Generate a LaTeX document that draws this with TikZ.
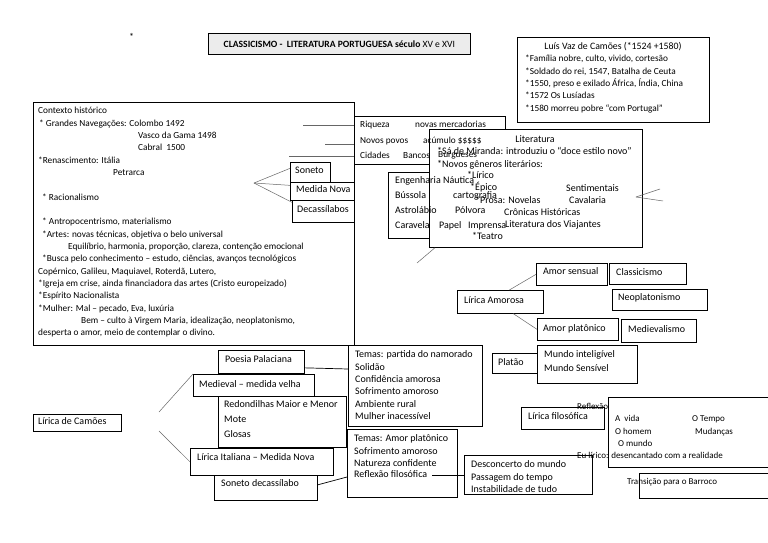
\documentclass[tikz,border=0pt]{standalone}
\usepackage{fontspec}
\setmainfont{Carlito}
\begin{document}
\begin{tikzpicture}[x=1pt,y=-1pt,
    every node/.style={font=\fontsize{10}{12.3}\selectfont},
    box/.style={draw, rectangle, fill=white, anchor=north west, inner sep=0pt, line width=0.7pt},
    txt/.style={anchor=west, inner sep=0pt, text height=6.5pt, text depth=2pt},
    para/.style={anchor=north west, inner sep=0pt, align=left},
    small/.style={font=\fontsize{9.3}{12.33}\selectfont},
    tiny/.style={font=\fontsize{9}{12.3}\selectfont},
    link/.style={draw=black!60, line width=0.5pt}]
    \useasboundingbox (0,0) rectangle (768,543);

    \node (star) [txt] at (129,38) {*};
    \node (title) [box, fill=gray!15, minimum width=262pt, minimum height=21pt, font=\bfseries\fontsize{9.6}{11}\selectfont] at (208,33) {CLASSICISMO -\ \ LITERATURA PORTUGUESA século {\mdseries XV e XVI}};

    \node (camoes) [box, minimum width=192pt, minimum height=85pt] at (517,37) {};
    \node (ctx) [box, minimum width=321pt, minimum height=243pt] at (33,102) {};
    \node (riq) [box, minimum width=151pt, minimum height=48pt] at (354,116) {};
    \node (eng) [box, minimum width=60pt, minimum height=66pt] at (388,172) {};
    \node (lit) [box, minimum width=213pt, minimum height=118pt] at (429,129) {};
    \node (son) [box, minimum width=40pt, minimum height=20pt] at (290,162) {};
    \node (mnova) [box, minimum width=64pt, minimum height=18pt] at (290,182) {};
    \node (decas) [box, minimum width=62pt, minimum height=22pt] at (292,200) {};

    \node (la) [box, minimum width=86pt, minimum height=23pt] at (457,290) {};
    \node (asens) [box, minimum width=71pt, minimum height=22pt] at (536,263) {};
    \node (class) [box, minimum width=77pt, minimum height=21pt] at (609,263) {};
    \node (neo) [box, minimum width=95pt, minimum height=21pt] at (612,289) {};
    \node (aplat) [box, minimum width=81pt, minimum height=22pt] at (537,318) {};
    \node (medv) [box, minimum width=75pt, minimum height=23pt] at (621,319) {};
    \node (platao) [box, minimum width=45pt, minimum height=20pt] at (492,353) {};
    \node (mundo) [box, minimum width=100pt, minimum height=38pt] at (537,345) {};

    \node (lc) [box, minimum width=88pt, minimum height=17pt] at (33,414) {};
    \node (pp) [box, minimum width=86pt, minimum height=23pt] at (218,350) {};
    \node (med) [box, minimum width=121pt, minimum height=22pt] at (193,374) {};
    \node (red) [box, minimum width=128pt, minimum height=51pt] at (218,396) {};
    \node (ita) [box, minimum width=143pt, minimum height=27pt] at (190,448) {};
    \node (sd) [box, minimum width=103pt, minimum height=25pt] at (214,475) {};
    \node (t1) [box, minimum width=134pt, minimum height=81pt] at (348,345) {};
    \node (t2) [box, minimum width=110pt, minimum height=68pt] at (347,429) {};
    \node (dc) [box, minimum width=128pt, minimum height=39pt] at (464,455) {};
    \node (lf) [box, minimum width=83pt, minimum height=22pt] at (521,407) {};
    \node (refl) [box, minimum width=170pt, minimum height=70pt] at (608,397) {};
    \node (trans) [box, minimum width=140pt, minimum height=25pt] at (639,473) {};

    \node (camoestitle) [font=\fontsize{9.8}{12.3}\selectfont] at (613,47) {Luís Vaz de Camões (*1524 +1580)};
    \node (camoestext) [para, small] at (525,53) {\strut*Família nobre, culto, vivido, cortesão\\
        *Soldado do rei, 1547, Batalha de Ceuta\\
        *1550, preso e exilado África, Índia, China\\
        *1572 Os Lusíadas\\
        *1580 morreu pobre “com Portugal”};

    \node (ctxtext) [para, small] at (38,105) {\strut Contexto histórico\\
        \hspace*{1pt}* Grandes Navegações: Colombo 1492\\
        \hspace*{100pt}Vasco da Gama 1498\\
        \hspace*{100pt}Cabral\ \ 1500\\
        *Renascimento: Itália\\
        \hspace*{75pt}Petrarca\\
        {}\\
        \hspace*{4pt}* Racionalismo\\
        {}\\
        \hspace*{4pt}* Antropocentrismo, materialismo\\
        \hspace*{4pt}*Artes: novas técnicas, objetiva o belo universal\\
        \hspace*{30pt}Equilíbrio, harmonia, proporção, clareza, contenção emocional\\
        \hspace*{4pt}*Busca pelo conhecimento – estudo, ciências, avanços tecnológicos\\
        Copérnico, Galileu, Maquiavel, Roterdã, Lutero,\\
        *Igreja em crise, ainda financiadora das artes (Cristo europeizado)\\
        *Espírito Nacionalista\\
        *Mulher: Mal – pecado, Eva, luxúria\\
        \hspace*{43pt}Bem – culto à Virgem Maria, idealização, neoplatonismo,\\
        desperta o amor, meio de contemplar o divino.};

    \node (littitle) at (535,139) {Literatura};
    \node (littext) [para] at (437,146) {\strut*Sá de Miranda: introduziu o “doce estilo novo”\\
        *Novos gêneros literários:};
    \node (lirico) [txt] at (467,176) {*Lírico};
    \node (epico) [txt] at (470,188) {*Épico};
    \node (sent) [txt] at (566,189) {Sentimentais};
    \node (prosa) [txt] at (475,201) {*Prosa: Novelas};
    \node (caval) [txt] at (569,201) {Cavalaria};
    \node (cron) [txt] at (504,213) {Crônicas Históricas};
    \node (viaj) [txt] at (505,225) {Literatura dos Viajantes};
    \node (teatro) [txt] at (472,237) {*Teatro};

    \node (riqueza) [txt, small] at (360,125) {Riqueza};
    \node (merc) [txt, small] at (415,125) {novas mercadorias};
    \node (povos) [txt, small] at (360,141) {Novos povos};
    \node (acum) [txt, small] at (423,141) {acúmulo \$\$\$\$\$};
    \node (cid) [txt, small] at (360,156) {Cidades};
    \node (bancos) [txt, small] at (403,156) {Bancos};
    \node (burg) [txt, small] at (438,155) {Burgueses};

    \node (nautica) [txt] at (395,181) {Engenharia Náutica};
    \node (bussola) [txt] at (395,196) {Bússola};
    \node (carto) [txt] at (453,196) {cartografia};
    \node (astro) [txt] at (395,211) {Astrolábio};
    \node (polvora) [txt] at (455,211) {Pólvora};
    \node (carav) [txt] at (395,226) {Caravela};
    \node (papel) [txt] at (439,226) {Papel};
    \node (impr) [txt] at (468,226) {Imprensa};

    \node (sontext) [txt] at (295,171) {Soneto};
    \node (mnovatext) [txt] at (296,190) {Medida Nova};
    \node (decastext) [txt] at (297,210) {Decassílabos};

    \node (latext) [txt] at (464,301) {Lírica Amorosa};
    \node (asenstext) [txt] at (543,272) {Amor sensual};
    \node (classtext) [txt] at (616,273) {Classicismo};
    \node (neotext) [txt] at (618,298) {Neoplatonismo};
    \node (aplattext) [txt] at (543,329) {Amor platônico};
    \node (medvtext) [txt] at (628,330) {Medievalismo};
    \node (plataotext) [txt] at (498,363) {Platão};
    \node (intel) [txt] at (544,355) {Mundo inteligível};
    \node (sensiv) [txt] at (544,369) {Mundo Sensível};

    \node (lctext) [txt] at (38,422) {Lírica de Camões};
    \node (pptext) [txt] at (225,360) {Poesia Palaciana};
    \node (medtext) [txt] at (199,385) {Medieval – medida velha};
    \node (redtext) [para] at (224,399) {\strut Redondilhas Maior e Menor\\[2.7pt]
        Mote\\[2.7pt]
        Glosas};
    \node (itatext) [txt] at (197,458) {Lírica Italiana – Medida Nova};
    \node (sdtext) [txt] at (221,484) {Soneto decassílabo};
    \node (t1text) [para] at (355,349) {\strut Temas: partida do namorado\\
        Solidão\\
        Confidência amorosa\\
        Sofrimento amoroso\\
        Ambiente rural\\
        Mulher inacessível};
    \node (t2text) [para] at (354,433) {\strut Temas: Amor platônico\\
        Sofrimento amoroso\\
        Natureza confidente};
    \node (rf) [txt] at (354,475) {Reflexão filosófica};
    \node (dctext) [para] at (471,459) {\strut Desconcerto do mundo\\
        Passagem do tempo\\
        Instabilidade de tudo};
    \node (lftext) [txt] at (528,417) {Lírica filosófica};
    \node (refltitle) [txt, tiny] at (577,407) {Reflexão};
    \node (vida) [txt, tiny] at (615,419) {A\ \ vida};
    \node (tempo) [txt, tiny] at (692,419) {O Tempo};
    \node (homem) [txt, tiny] at (615,432) {O homem};
    \node (mudancas) [txt, tiny] at (695,432) {Mudanças};
    \node (mundotext) [txt, tiny] at (618,444) {O mundo};
    \node (eulirico) [txt, tiny] at (577,456) {Eu lírico: desencantado com a realidade};
    \node (transtext) [txt, tiny] at (627,482) {Transição para o Barroco};

    \coordinate (riqa) at (303,125);
    \coordinate (riqb) at (325,144);
    \coordinate (riqc) at (289,156);
    \coordinate (sonapex) at (254,183);
    \coordinate (litapex) at (636,197);
    \coordinate (litend1) at (660,189);
    \coordinate (litend2) at (663,201);
    \coordinate (litfoot) at (417,263);
    \coordinate (lca) at (159,412);
    \coordinate (lcb) at (159,431);

    \draw[link] (riqa) -- (riqa -| riq.west);
    \draw[link] (riqb) -- (riqb -| riq.west);
    \draw[link] (riqc) -- (riqc -| riq.west);
    \draw[link] (sonapex) -- ([yshift=4pt]son.west);
    \draw[link] (sonapex) -- ([yshift=6pt]mnova.west);
    \draw[link] (sonapex) -- ([yshift=9pt]decas.west);
    \draw[link] (litapex) -- (litend1);
    \draw[link] (litapex) -- (litend2);
    \draw[link] ([xshift=6pt]lit.south west) -- (litfoot);
    \draw[link] ([xshift=9pt]la.north) -- (asens.west);
    \draw[link] ([xshift=13pt]la.south) -- (aplat.west);
    \draw[link] (lca) -- (med.north west);
    \draw[link] (lcb) -- (ita.west);
    \draw[line width=0.7pt] ([yshift=-6pt]pp.east) -- ([yshift=-24pt]t1.north west);
    \draw[line width=0.7pt] ([yshift=3pt]sd.east) -- ([yshift=-48pt]t2.north west);
    \draw[line width=0.7pt] ([xshift=5pt]rf.east) -- (rf.east -| dc.west);
\end{tikzpicture}
\end{document}
